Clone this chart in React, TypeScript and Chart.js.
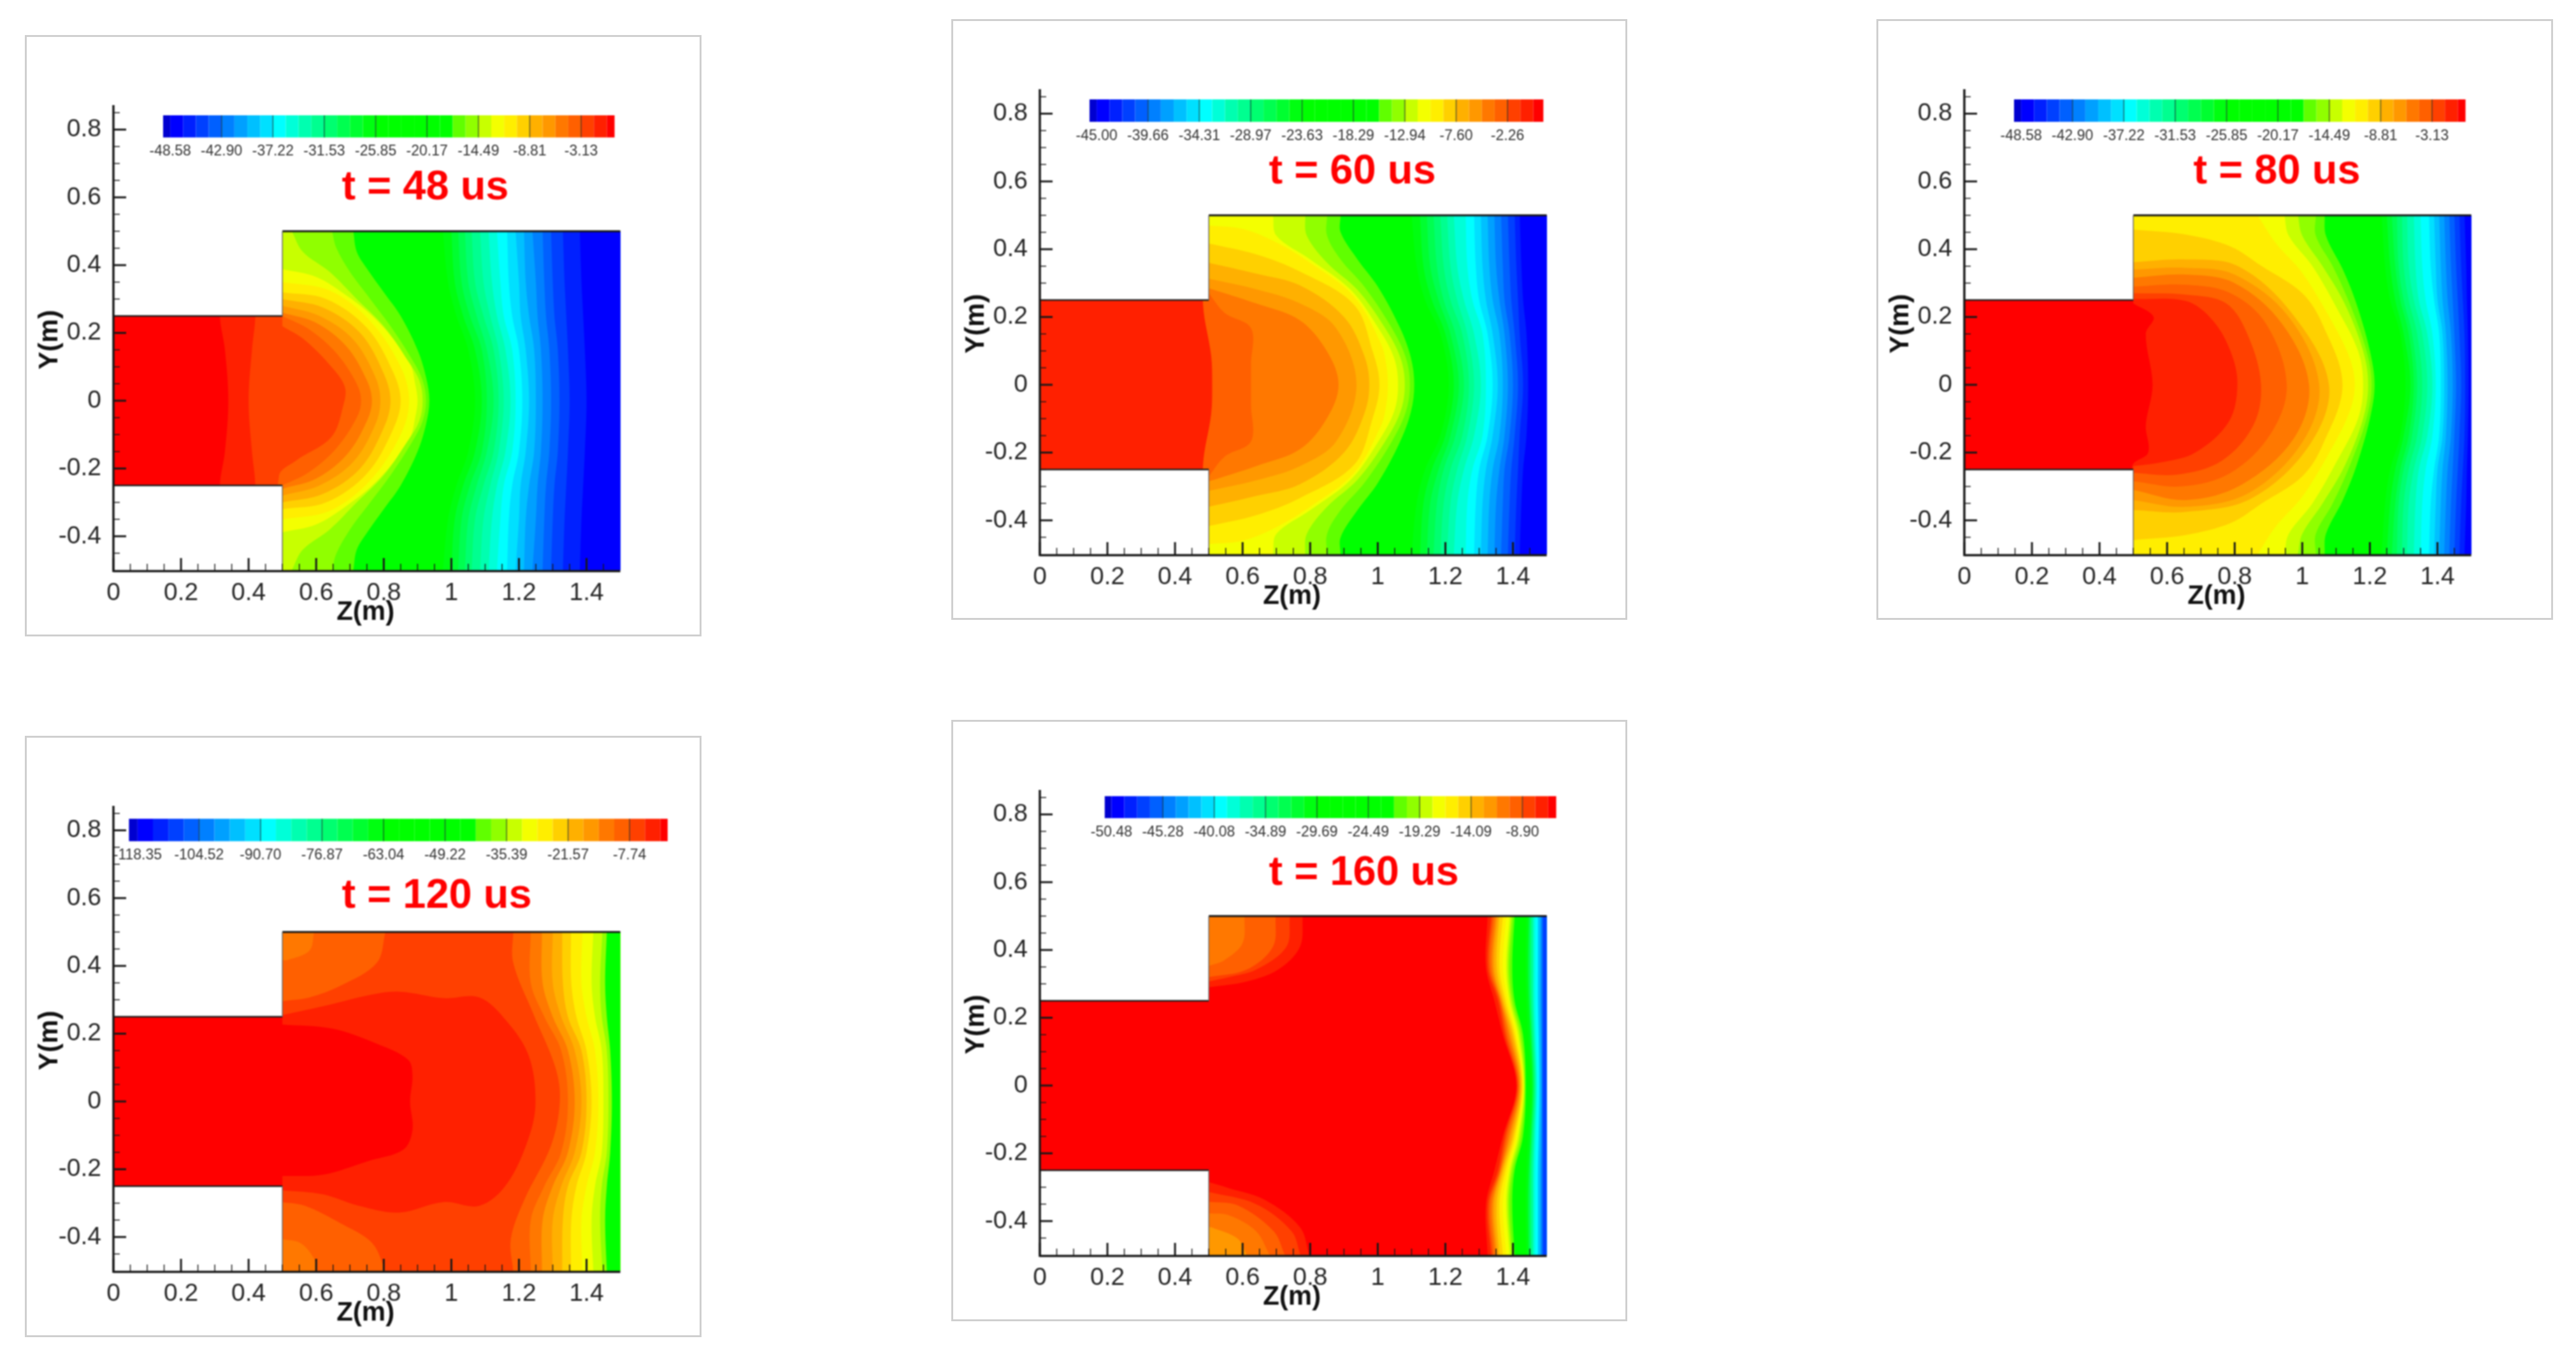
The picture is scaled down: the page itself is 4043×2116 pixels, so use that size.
import React, { useEffect, useRef } from "react";
import { Chart, registerables } from "chart.js";

Chart.register(...registerables);

const FONT = "'Liberation Sans', Arial, sans-serif";
const BAND_COLORS = [
  "#0000d0", "#0000ff", "#0020ff", "#0040ff", "#0060ff", "#0080ff", "#00a0ff", "#00c0ff", "#00e0ff",
  "#00ffff", "#00ffd8", "#00ffb0", "#00ff90", "#00ff70", "#00ff50", "#00ff30", "#00ff10",
  "#00ff00", "#00ff00", "#00ff00", "#00ff00", "#00ff00", "#00ff00",
  "#60ff00", "#90ff00", "#c8ff00", "#f4ff00", "#ffee00", "#ffd000", "#ffb000", "#ff9800",
  "#ff7800", "#ff6000", "#ff4000", "#ff2000", "#ff0000",
];

const X_TICKS = [0, 0.2, 0.4, 0.6, 0.8, 1, 1.2, 1.4];
const Y_TICKS = [-0.4, -0.2, 0, 0.2, 0.4, 0.6, 0.8];
const X_MINOR = [0.05, 0.1, 0.15, 0.25, 0.3, 0.35, 0.45, 0.5, 0.55, 0.65, 0.7, 0.75, 0.85, 0.9, 0.95, 1.05, 1.1, 1.15, 1.25, 1.3, 1.35, 1.45];
const Y_MINOR = [-0.45, -0.35, -0.3, -0.25, -0.15, -0.1, -0.05, 0.05, 0.1, 0.15, 0.25, 0.3, 0.35, 0.45, 0.5, 0.55, 0.65, 0.7, 0.75, 0.85];
const RIGHT_Y = [0.5, 0.35, 0.25, 0.15, 0];

// Curves: [band, z,y, z,y, ...]; those ending at y = 0 continue as their mirror image.
const BULGE_48 = [
  [34, .315,.5, .315,.25, .33,.15, .34,0],
  [33, .42,.5, .42,.25, .41,.15, .40,0],
  [32, .5,.5, .5,.22, .565,.18, .645,.1, .685,.04, .68,-.015, .645,-.107, .54,-.177, .49,-.222, .49,-.5],
  [31, .5,.5, .5,.25, .58,.21, .66,.14, .72,.05, .733,0],
  [30, .5,.5, .5,.26, .6,.23, .69,.16, .75,.06, .765,0],
  [29, .5,.5, .5,.28, .61,.25, .71,.18, .775,.07, .79,0],
  [28, .5,.5, .5,.30, .62,.275, .73,.20, .80,.08, .82,0],
  [27, .5,.5, .5,.32, .63,.30, .75,.215, .825,.09, .85,0],
  [26, .5,.5, .5,.35, .64,.325, .76,.235, .85,.1, .875,0],
  [25, .5,.5, .5,.388, .6,.365, .69,.31, .766,.25, .83,.18, .878,.11, .893,.05, .90,0],
  [24, .528,.5, .56,.44, .64,.38, .72,.3, .80,.22, .87,.12, .905,.06, .915,0],
  [23, .647,.5, .66,.45, .70,.38, .76,.3, .82,.22, .885,.12, .915,.06, .925,0],
  [22, .71,.5, .72,.44, .75,.39, .80,.32, .85,.25, .90,.15, .925,.07, .935,0],
];
const RIGHT_48 = [
  [16, .975,.99,1.015,1.05,1.07], [15, 1.0,1.01,1.035,1.07,1.09], [14, 1.02,1.03,1.055,1.09,1.105],
  [13, 1.04,1.05,1.075,1.105,1.125], [12, 1.06,1.07,1.095,1.125,1.14], [11, 1.085,1.095,1.115,1.14,1.155],
  [10, 1.11,1.12,1.135,1.16,1.175], [9, 1.135,1.145,1.155,1.18,1.19], [8, 1.165,1.17,1.18,1.2,1.21],
  [7, 1.19,1.2,1.205,1.22,1.23], [6, 1.215,1.22,1.23,1.245,1.25], [5, 1.24,1.25,1.255,1.265,1.27],
  [4, 1.27,1.275,1.28,1.29,1.295], [3, 1.295,1.30,1.305,1.315,1.32], [2, 1.33,1.335,1.34,1.345,1.35],
  [1, 1.38,1.385,1.39,1.395,1.40],
];

const BULGE_60 = [
  [32, .483,.5, .483,.236, .507,.086, .51,0],
  [31, .5,.5, .5,.27, .547,.212, .625,.167, .625,.06, .625,0],
  [30, .5,.5, .5,.285, .64,.24, .77,.19, .85,.098, .884,0],
  [29, .5,.5, .5,.313, .64,.282, .77,.24, .877,.167, .937,0],
  [28, .5,.5, .5,.36, .64,.328, .77,.293, .90,.2, .96,.086, .975,0],
  [27, .5,.5, .5,.417, .64,.385, .77,.334, .93,.236, .985,.098, 1.005,0],
  [26, .5,.5, .5,.47, .6,.46, .7,.42, .8,.36, .93,.26, 1.01,.12, 1.025,.06, 1.03,0],
  [25, .69,.5, .70,.44, .80,.37, .92,.28, 1.0,.17, 1.048,.08, 1.06,0],
  [24, .785,.5, .79,.44, .85,.36, .94,.28, 1.02,.17, 1.067,.08, 1.08,0],
  [23, .85,.5, .85,.44, .89,.37, .96,.29, 1.04,.17, 1.083,.08, 1.095,0],
  [22, .89,.5, .89,.45, .94,.37, 1.0,.29, 1.065,.17, 1.098,.08, 1.108,0],
];
const RIGHT_60 = [
  [16, 1.10,1.115,1.14,1.185,1.21], [15, 1.125,1.135,1.16,1.2,1.225], [14, 1.145,1.155,1.18,1.215,1.24],
  [13, 1.165,1.175,1.195,1.23,1.255], [12, 1.185,1.195,1.215,1.25,1.27], [11, 1.205,1.215,1.235,1.265,1.285],
  [10, 1.225,1.235,1.255,1.285,1.305], [9, 1.26,1.265,1.28,1.31,1.32], [8, 1.285,1.29,1.30,1.325,1.34],
  [7, 1.305,1.31,1.32,1.34,1.355], [6, 1.325,1.33,1.34,1.36,1.37], [5, 1.345,1.35,1.36,1.375,1.385],
  [4, 1.365,1.37,1.375,1.39,1.40], [3, 1.385,1.39,1.395,1.405,1.415], [2, 1.405,1.41,1.415,1.42,1.43],
  [1, 1.42,1.425,1.43,1.44,1.445],
];

const BULGE_80 = [
  [34, .5,.5, .5,.24, .56,.2, .537,.15, .557,0, .537,-.12, .544,-.2, .497,-.24, .497,-.5],
  [33, .5,.5, .5,.253, .656,.247, .735,.19, .788,.098, .808,0, .782,-.11, .683,-.2, .577,-.23, .5,-.24, .5,-.5],
  [32, .5,.5, .5,.27, .656,.266, .775,.24, .84,.144, .878,0, .855,-.12, .762,-.224, .63,-.265, .5,-.26, .5,-.5],
  [31, .5,.5, .5,.29, .656,.295, .788,.27, .894,.178, .954,0, .907,-.144, .788,-.26, .643,-.3, .5,-.285, .5,-.5],
  [30, .5,.5, .5,.316, .656,.325, .80,.30, .94,.18, 1.02,0, .974,-.16, .82,-.295, .656,-.34, .5,-.31, .5,-.5],
  [29, .5,.5, .5,.34, .656,.345, .80,.325, .96,.2, 1.05,0, 1.0,-.17, .84,-.32, .656,-.36, .5,-.34, .5,-.5],
  [28, .5,.5, .5,.362, .656,.37, .81,.35, .97,.21, 1.079,0, 1.02,-.18, .85,-.335, .656,-.375, .5,-.37, .5,-.5],
  [27, .5,.5, .5,.458, .656,.443, .788,.408, .88,.35, 1.0,.27, 1.06,.178, 1.119,0],
  [26, .868,.5, .92,.42, 1.0,.33, 1.08,.2, 1.14,.08, 1.155,0],
  [25, .947,.5, .96,.44, 1.03,.35, 1.1,.23, 1.165,.1, 1.18,0],
  [24, .987,.5, 1.0,.44, 1.06,.35, 1.125,.24, 1.18,.1, 1.195,0],
  [23, 1.04,.5, 1.04,.44, 1.09,.35, 1.14,.24, 1.19,.1, 1.205,0],
  [22, 1.066,.5, 1.07,.44, 1.12,.34, 1.16,.24, 1.2,.1, 1.214,0],
];
const RIGHT_80 = [
  [16, 1.235,1.245,1.26,1.29,1.305], [15, 1.25,1.26,1.275,1.30,1.32], [14, 1.265,1.275,1.29,1.315,1.33],
  [13, 1.28,1.285,1.30,1.325,1.34], [12, 1.295,1.30,1.315,1.34,1.355], [11, 1.31,1.315,1.33,1.355,1.37],
  [10, 1.33,1.335,1.345,1.37,1.385], [9, 1.35,1.355,1.365,1.385,1.395], [8, 1.375,1.38,1.39,1.405,1.41],
  [7, 1.39,1.395,1.40,1.415,1.42], [6, 1.405,1.41,1.415,1.425,1.43], [5, 1.42,1.425,1.43,1.44,1.445],
  [4, 1.435,1.44,1.445,1.45,1.455], [3, 1.45,1.455,1.46,1.465,1.47], [2, 1.465,1.47,1.475,1.48,1.482],
  [1, 1.48,1.485,1.487,1.49,1.492],
];

const BULGE_120 = [
  [34, .5,.5, .5,.227, .647,.215, .78,.17, .872,.123, .885,.077, .878,0, .885,-.084, .858,-.142, .753,-.176, .62,-.216, .5,-.22, .5,-.5],
  [33, .5,.5, .5,.255, .633,.284, .753,.313, .845,.324, .977,.305, 1.083,.307, 1.163,.238, 1.229,.135, 1.249,0, 1.229,-.107, 1.163,-.245, 1.083,-.308, .977,-.297, .845,-.328, .726,-.308, .62,-.274, .5,-.262, .5,-.5],
  [32, 1.183,.5, 1.183,.41, 1.242,.26, 1.308,.1, 1.321,0, 1.295,-.13, 1.216,-.29, 1.176,-.406, 1.183,-.5],
];
const RIGHT_120 = [
  [31, 1.235,1.235,1.275,1.325,1.345], [30, 1.268,1.27,1.30,1.345,1.365], [29, 1.30,1.30,1.325,1.365,1.385],
  [28, 1.328,1.33,1.345,1.385,1.40], [27, 1.354,1.355,1.37,1.40,1.415], [26, 1.388,1.385,1.40,1.425,1.435],
  [25, 1.42,1.415,1.425,1.445,1.45], [24, 1.447,1.44,1.445,1.46,1.465], [22, 1.46,1.455,1.46,1.47,1.475],
];
const BLOBS_120 = [
  [32, .5,.5, .805,.5, .78,.41, .673,.342, .58,.307, .5,.296],
  [31, .5,.5, .594,.5, .58,.445, .515,.417, .5,.417],
  [32, .5,-.297, .567,-.308, .673,-.36, .766,-.418, .805,-.5, .5,-.5],
  [31, .5,-.406, .554,-.418, .594,-.464, .6,-.5, .5,-.5],
];

const RIGHT_160 = [
  [34, 1.325,1.32,1.345,1.37,1.41], [33, 1.335,1.325,1.355,1.375,1.412], [32, 1.34,1.33,1.36,1.38,1.415],
  [31, 1.345,1.335,1.362,1.385,1.417], [30, 1.35,1.34,1.365,1.39,1.42], [29, 1.355,1.345,1.368,1.395,1.422],
  [28, 1.36,1.352,1.372,1.40,1.425], [27, 1.37,1.36,1.378,1.405,1.428], [26, 1.38,1.37,1.385,1.41,1.43],
  [25, 1.39,1.38,1.39,1.415,1.432], [24, 1.395,1.385,1.395,1.42,1.434], [23, 1.40,1.39,1.40,1.425,1.436],
  [22, 1.405,1.398,1.405,1.43,1.438], [16, 1.44,1.438,1.44,1.445,1.452], [14, 1.447,1.445,1.447,1.452,1.458],
  [12, 1.453,1.452,1.453,1.457,1.463], [10, 1.46,1.46,1.46,1.463,1.468], [9, 1.466,1.466,1.466,1.468,1.472],
  [7, 1.474,1.474,1.474,1.476,1.478], [5, 1.482,1.482,1.482,1.483,1.484], [3, 1.488,1.488,1.488,1.488,1.488],
];
const BLOBS_160 = [
  [34, .5,.5, .778,.5, .77,.41, .705,.342, .612,.307, .5,.29],
  [33, .5,.5, .74,.5, .73,.41, .64,.342, .56,.32, .5,.307],
  [32, .5,.5, .698,.5, .69,.41, .612,.342, .5,.32],
  [31, .5,.5, .606,.5, .6,.42, .546,.37, .5,.353],
  [34, .5,-.285, .56,-.303, .665,-.337, .77,-.418, .797,-.5, .5,-.5],
  [33, .5,-.314, .64,-.35, .745,-.43, .771,-.5, .5,-.5],
  [32, .5,-.343, .586,-.354, .692,-.43, .725,-.5, .5,-.5],
  [31, .5,-.377, .56,-.383, .64,-.43, .68,-.5, .5,-.5],
  [30, .5,-.418, .507,-.418, .586,-.452, .612,-.5, .5,-.5],
];

const LABELS_48 = ["-48.58", "-42.90", "-37.22", "-31.53", "-25.85", "-20.17", "-14.49", "-8.81", "-3.13"];
const LABELS_60 = ["-45.00", "-39.66", "-34.31", "-28.97", "-23.63", "-18.29", "-12.94", "-7.60", "-2.26"];
const LABELS_120 = ["-118.35", "-104.52", "-90.70", "-76.87", "-63.04", "-49.22", "-35.39", "-21.57", "-7.74"];
const LABELS_160 = ["-50.48", "-45.28", "-40.08", "-34.89", "-29.69", "-24.49", "-19.29", "-14.09", "-8.90"];

const PANELS = [
  { title: "t = 48 us", base: 35, bulge: BULGE_48, right: RIGHT_48, blobs: [], labels: LABELS_48,
    frame: [40, 56, 1100, 998], x0: 178, yBottom: 895, bar: [.147, 1.483, .842, .777, .168, .038], titleAt: [.676, .627] },
  { title: "t = 60 us", base: 34, bulge: BULGE_60, right: RIGHT_60, blobs: [], labels: LABELS_60,
    frame: [1494, 31, 2553, 972], x0: 1632, yBottom: 870, bar: [.147, 1.49, .842, .776, .168, .038], titleAt: [.678, .627] },
  { title: "t = 80 us", base: 35, bulge: BULGE_80, right: RIGHT_80, blobs: [], labels: LABELS_48,
    frame: [2946, 31, 4006, 972], x0: 3083, yBottom: 870, bar: [.147, 1.483, .842, .776, .168, .038], titleAt: [.678, .627] },
  { title: "t = 120 us", base: 35, bulge: BULGE_120, right: RIGHT_120, blobs: BLOBS_120, labels: LABELS_120,
    frame: [40, 1156, 1100, 2098], x0: 178, yBottom: 1995, bar: [.046, 1.64, .834, .768, .0714, .0455], titleAt: [.676, .605] },
  { title: "t = 160 us", base: 35, bulge: [], right: RIGHT_160, blobs: BLOBS_160, labels: LABELS_160,
    frame: [1494, 1131, 2553, 2073], x0: 1632, yBottom: 1970, bar: [.192, 1.528, .854, .789, .212, .038], titleAt: [.678, .626] },
];

const X_MAX = 1.7;
const Y_MIN = -0.5;
const Y_MAX = 0.872;
const PX_X = 530.4;
const PX_Y = 532;
const CURVE_TENSION = 0.35;

type Pt = { x: number; y: number };
function pairs(flat: number[]): Pt[] {
  const pts: Pt[] = [];
  for (let i = 0; i < flat.length; i += 2) pts.push({ x: flat[i], y: flat[i + 1] });
  return pts;
}
function mirrored(pts: Pt[]): Pt[] {
  if (pts[pts.length - 1].y !== 0) return pts;
  const back = pts.slice(0, -1).reverse().map((p) => ({ x: p.x, y: -p.y }));
  return pts.concat(back);
}
// A point listed twice keeps a sharp corner under the line's tension, so curves stay
// smooth through the read points and the domain edges stay straight.
function sharpenEdges(pts: Pt[]): Pt[] {
  const out: Pt[] = [];
  for (const p of pts) {
    out.push(p);
    if (Math.abs(p.y) === 0.5 || p.x === 0.5 || p.x === 1.5) out.push(p);
  }
  return out;
}
const shape = (data: Pt[], color: string, tension = 0) => ({
  data, showLine: true, fill: "shape", backgroundColor: color, borderWidth: 0, pointRadius: 0, tension,
});
const stroke = (data: Pt[], color: string, width: number) => ({
  data, showLine: true, fill: false, borderColor: color, borderWidth: width, pointRadius: 0, tension: 0,
});
const closeRight = (pts: Pt[]) => pts.concat([{ x: 1.5, y: -0.5 }, { x: 1.5, y: 0.5 }]);
const curve = (pts: Pt[], color: string) => shape(sharpenEdges(pts), color, CURVE_TENSION);

function buildDatasets(p: any) {
  const sets: any[] = [];
  sets.push(shape([{ x: 0, y: 0.5 }, { x: 0, y: -0.5 }, { x: 1.5, y: -0.5 }, { x: 1.5, y: 0.5 }], BAND_COLORS[p.base]));
  for (const c of p.bulge) sets.push(curve(closeRight(mirrored(pairs(c.slice(1)))), BAND_COLORS[c[0]]));
  for (const c of p.blobs) sets.push(curve(pairs(c.slice(1)), BAND_COLORS[c[0]]));
  for (const c of p.right) {
    const pts = RIGHT_Y.map((y, i) => ({ x: c[i + 1], y }));
    sets.push(curve(closeRight(mirrored(pts)), BAND_COLORS[c[0]]));
  }
  // white corners beside the narrow inlet
  sets.push(shape([{ x: 0, y: 0.25 }, { x: 0.5, y: 0.25 }, { x: 0.5, y: 0.52 }, { x: 0, y: 0.52 }], "#ffffff"));
  sets.push(shape([{ x: 0, y: -0.25 }, { x: 0.5, y: -0.25 }, { x: 0.5, y: -0.5 }, { x: 0, y: -0.5 }], "#ffffff"));
  // outline of the domain
  sets.push(stroke([{ x: 0.5, y: 0.5 }, { x: 1.5, y: 0.5 }], "#151515", 3));
  sets.push(stroke([{ x: 0, y: 0.25 }, { x: 0.5, y: 0.25 }], "#202020", 2.5));
  sets.push(stroke([{ x: 0, y: -0.25 }, { x: 0.5, y: -0.25 }], "#202020", 2.5));
  sets.push(stroke([{ x: 0.5, y: 0.25 }, { x: 0.5, y: 0.5 }], "#666666", 1.5));
  sets.push(stroke([{ x: 0.5, y: -0.25 }, { x: 0.5, y: -0.5 }], "#666666", 1.5));
  // colour bar
  const [start, end, top, bottom, first, step] = p.bar;
  BAND_COLORS.forEach((color, i) => {
    const a = i === 0 ? start : first + (i - 1) * step;
    const b = i === BAND_COLORS.length - 1 ? end : first + i * step;
    sets.push(shape([{ x: a, y: top }, { x: a, y: bottom }, { x: b, y: bottom }, { x: b, y: top }], color));
  });
  p.labels.forEach((_: string, k: number) => {
    if (k === 0) return;
    const x = first + k * 4 * step;
    sets.push(stroke([{ x, y: top }, { x, y: bottom }], "rgba(20,40,40,0.7)", 1.5));
  });
  sets.forEach((s, i) => (s.order = sets.length - i));
  return sets;
}

function Panel({ p }: { p: any }) {
  const ref = useRef<HTMLCanvasElement | null>(null);
  const [l, t, r, b] = p.frame;
  const w = r - l;
  const h = b - t;
  useEffect(() => {
    const furniture = {
      id: "furniture",
      afterDatasetsDraw(chart: any) {
        const { ctx } = chart;
        const X = chart.scales.x;
        const Y = chart.scales.y;
        const y0 = Y.getPixelForValue(Y_MIN);
        const x0 = X.getPixelForValue(0);
        ctx.save();
        ctx.strokeStyle = "#181818";
        const line = (a: number, c: number, e: number, f: number, lw: number) => {
          ctx.lineWidth = lw;
          ctx.beginPath();
          ctx.moveTo(a, c);
          ctx.lineTo(e, f);
          ctx.stroke();
        };
        X_TICKS.forEach((v) => { const px = X.getPixelForValue(v); line(px, y0, px, y0 - 19, 3); });
        X_MINOR.forEach((v) => { const px = X.getPixelForValue(v); line(px, y0, px, y0 - 10, 1.5); });
        Y_TICKS.forEach((v) => { const py = Y.getPixelForValue(v); line(x0, py, x0 + 20, py, 3); });
        Y_MINOR.forEach((v) => { const py = Y.getPixelForValue(v); line(x0, py, x0 + 10, py, 1.5); });
        line(x0, y0 + 1.5, X.getPixelForValue(1.5), y0 + 1.5, 3.5);
        line(x0, y0 + 3, x0, Y.getPixelForValue(Y_MAX), 3.5);

        ctx.fillStyle = "#333333";
        ctx.font = `23px ${FONT}`;
        ctx.textAlign = "center";
        ctx.textBaseline = "middle";
        const [, , , barBottom, first, step] = p.bar;
        p.labels.forEach((s: string, k: number) => {
          ctx.fillText(s, X.getPixelForValue(first + k * 4 * step), Y.getPixelForValue(barBottom) + 22);
        });

        ctx.fillStyle = "#ff0000";
        ctx.font = `bold 65px ${FONT}`;
        ctx.textAlign = "left";
        ctx.fillText(p.title, X.getPixelForValue(p.titleAt[0]), Y.getPixelForValue(p.titleAt[1]));

        ctx.fillStyle = "#111111";
        ctx.font = `bold 42px ${FONT}`;
        ctx.textAlign = "center";
        ctx.fillText("Z(m)", X.getPixelForValue(0.746), y0 + 66);
        ctx.translate(x0 - 100, Y.getPixelForValue(0.18));
        ctx.rotate(-Math.PI / 2);
        ctx.fillText("Y(m)", 0, 0);
        ctx.restore();
      },
    };
    const chart = new Chart(ref.current as HTMLCanvasElement, {
      type: "scatter",
      data: { datasets: buildDatasets(p) },
      plugins: [furniture],
      options: {
        animation: false,
        responsive: false,
        events: [],
        layout: {
          padding: {
            top: p.yBottom - PX_Y * (Y_MAX - Y_MIN) - t,
            right: w - (p.x0 - l) - PX_X * X_MAX,
            left: 0,
            bottom: 0,
          },
        },
        plugins: { legend: { display: false }, tooltip: { enabled: false }, title: { display: false } },
        scales: {
          x: {
            type: "linear",
            min: 0,
            max: X_MAX,
            grid: { display: false },
            border: { display: false },
            afterBuildTicks: (s: any) => { s.ticks = X_TICKS.map((value) => ({ value })); },
            afterFit: (s: any) => { s.height = b - p.yBottom; },
            ticks: {
              autoSkip: false, maxRotation: 0, padding: 5, color: "#262626",
              font: { family: FONT, size: 39 }, callback: (v: any) => String(v),
            },
          },
          y: {
            type: "linear",
            min: Y_MIN,
            max: Y_MAX,
            grid: { display: false },
            border: { display: false },
            afterBuildTicks: (s: any) => { s.ticks = Y_TICKS.map((value) => ({ value })); },
            afterFit: (s: any) => { s.width = p.x0 - l; },
            ticks: {
              autoSkip: false, padding: 11, color: "#262626",
              font: { family: FONT, size: 39 }, callback: (v: any) => String(v),
            },
          },
        },
      } as any,
    } as any);
    return () => chart.destroy();
  }, []);
  return (
    <div style={{ position: "absolute", left: l, top: t, width: w, height: h, outline: "3px solid #cfcfcf", outlineOffset: -2 }}>
      <canvas ref={ref} width={w} height={h} style={{ display: "block", width: w, height: h, filter: "blur(1px)" }} />
    </div>
  );
}

export default function App() {
  return (
    <div style={{ position: "absolute", left: 0, top: 0, width: 4043, height: 2116, overflow: "hidden", background: "#fff" }}>
      {PANELS.map((p) => (
        <Panel key={p.title} p={p} />
      ))}
    </div>
  );
}
